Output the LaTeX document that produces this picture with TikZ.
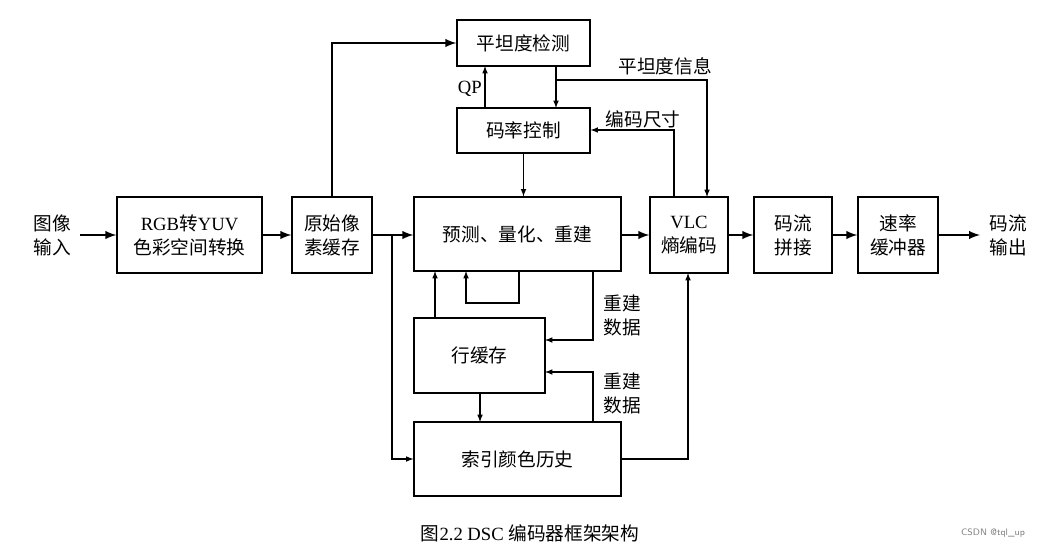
\documentclass[tikz,border=0pt]{standalone}
\usepackage{fontspec}
\setmainfont{Liberation Serif}
\newfontfamily\cjk{Noto Sans CJK SC}
\newcommand{\zh}[1]{{\cjk #1}}
\begin{document}
\begin{tikzpicture}[x=0.75pt,y=-0.75pt,>=latex,
  box/.style={draw,line width=0.9pt,inner sep=0,align=center,font=\fontsize{14}{18}\selectfont},
  lbl/.style={inner sep=0,align=center,font=\fontsize{14}{18}\selectfont},
  thk/.style={->,line width=1.8pt},
  thn/.style={->,line width=0.9pt}]
\useasboundingbox (0,0) rectangle (1049,549);
\node[box,minimum width=145*0.75pt,minimum height=76*0.75pt] (rgb) at (189.5,235) {RGB\zh{转}YUV\\\zh{色彩空间转换}};
\node[box,minimum width=80*0.75pt,minimum height=76*0.75pt] (buf) at (332,235) {\zh{原始像}\\\zh{素缓存}};
\node[box,minimum width=207*0.75pt,minimum height=74*0.75pt] (pred) at (517.5,234) {\zh{预测、量化、重建}};
\node[box,minimum width=78*0.75pt,minimum height=76*0.75pt] (vlc) at (689,235) {VLC\\\zh{熵编码}};
\node[box,minimum width=78*0.75pt,minimum height=76*0.75pt] (mux) at (793,235) {\zh{码流}\\\zh{拼接}};
\node[box,minimum width=80*0.75pt,minimum height=76*0.75pt] (rb) at (898,235) {\zh{速率}\\\zh{缓冲器}};
\node[box,minimum width=133*0.75pt,minimum height=46*0.75pt] (flat) at (523.5,43) {\zh{平坦度检测}};
\node[box,minimum width=133*0.75pt,minimum height=45*0.75pt] (rc) at (523.5,130.5) {\zh{码率控制}};
\node[box,minimum width=131*0.75pt,minimum height=75*0.75pt] (lb) at (479.5,355.5) {\zh{行缓存}};
\node[box,minimum width=207*0.75pt,minimum height=74*0.75pt] (ich) at (517.5,459) {\zh{索引颜色历史}};
\node[lbl] (in) at (52,235) {\zh{图像}\\\zh{输入}};
\node[lbl] (out) at (1008,235) {\zh{码流}\\\zh{输出}};
\coordinate (inE) at (80,235);
\coordinate (outW) at (980,235);
\draw[thk] (inE) -- (rgb);
\draw[thk] (rgb) -- (buf);
\draw[thk] (buf.east) -- (pred.west |- buf.east);
\draw[thk] (buf.north) |- (flat.west);
\draw[thn] (392,235) |- (ich.west);
\draw[thk] (pred.east |- vlc.west) -- (vlc.west);
\draw[thk] (vlc) -- (mux);
\draw[thk] (mux) -- (rb);
\draw[thk] (rb) -- (outW);
\draw[thn] (rc.south) -- (rc.south |- pred.north);
\draw[thn] (485,108) -- (485,66);
\node[lbl,anchor=east] (qp) at (482,89) {QP};
\draw[thn] (556,66) -- (556,108);
\draw[thn] (556,80) -| (707,197);
\node[lbl] (fi) at (665,66) {\zh{平坦度信息}};
\draw[thn] (674,197) |- (rc.east |- 0,130);
\node[lbl] (cs) at (643,119) {\zh{编码尺寸}};
\draw[thn] (519,271) -- (519,303) -| (466,271);
\draw[thn] (435,318) -- (435,271);
\draw[thn] (593,271) |- (545,340);
\node[lbl] (r1) at (622,315) {\zh{重建}\\\zh{数据}};
\draw[thn] (593,422) |- (545,372);
\node[lbl] (r2) at (622,393) {\zh{重建}\\\zh{数据}};
\draw[thn] (480,393) -- (480,422);
\draw[thn] (ich.east) -| (688,273);
\node[lbl] (cap) at (530,533) {\zh{图}2.2 DSC \zh{编码器框架架构}};
\node[lbl,text=gray,font=\fontsize{7}{8}\selectfont\sffamily] (wm) at (993,533) {CSDN @tql\_up};
\end{tikzpicture}
\end{document}
